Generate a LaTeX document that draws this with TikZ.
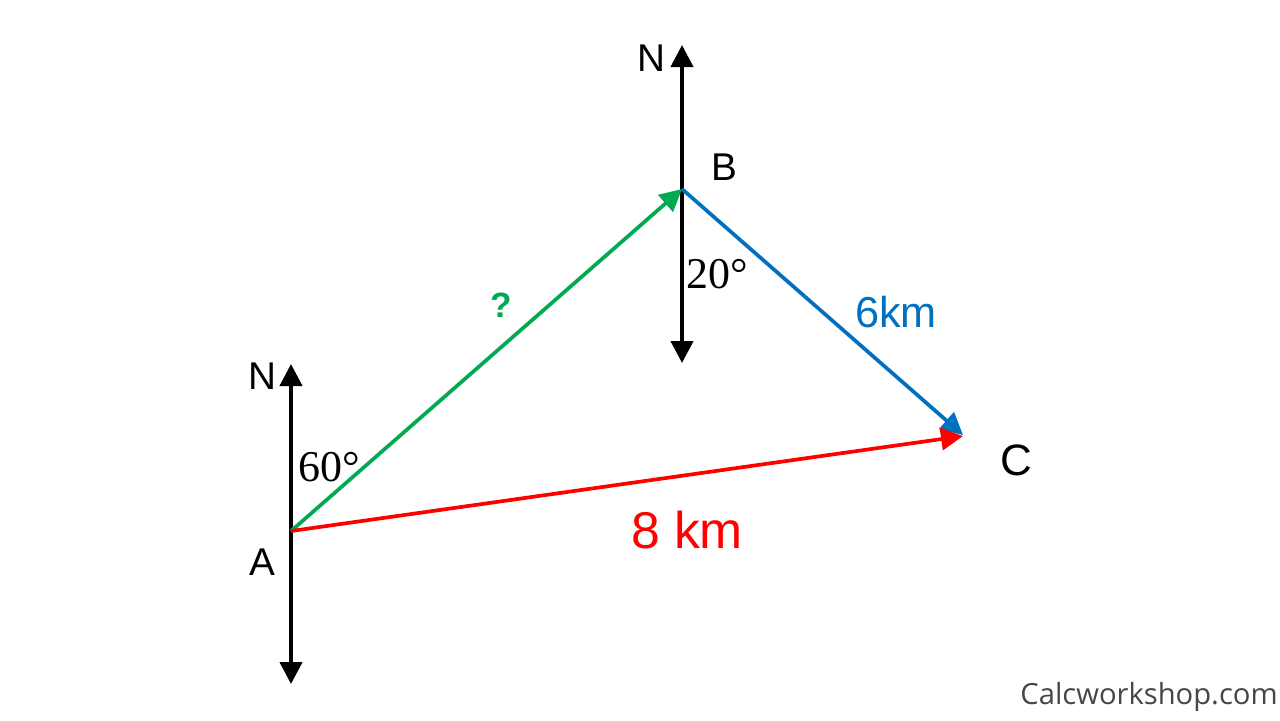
\documentclass[tikz,border=0pt]{standalone}
\usepackage{fontspec}
\setmainfont{Liberation Sans}
\newfontfamily\degfont{Liberation Serif}
\newfontfamily\wmfont{Open Sans}
\usetikzlibrary{arrows.meta}
\definecolor{vgreen}{RGB}{0,170,80}
\definecolor{vblue}{RGB}{0,112,192}
\definecolor{vred}{RGB}{255,0,0}
\definecolor{wmgray}{RGB}{70,70,70}
\tikzset{
  vec/.style={line width=1.05pt,-{Triangle[width=0.22cm,length=0.22cm]}},
  northline/.style={line width=1.15pt,black,{Triangle[width=0.22cm,length=0.22cm]}-{Triangle[width=0.22cm,length=0.22cm]}},
  lbl/.style={inner sep=0pt,font=\fontsize{11pt}{13pt}\selectfont},
  deg/.style={inner sep=0pt,font=\degfont\fontsize{12.5pt}{14pt}\selectfont},
}
\begin{document}
\begin{tikzpicture}[x=0.01cm,y=-0.01cm]
\useasboundingbox (0,0) rectangle (1280,720);
\coordinate (A) at (291,531);
\coordinate (B) at (682,189);
\coordinate (C) at (963,435);
\coordinate (Atop) at (291,364);
\coordinate (Abot) at (291,684);
\coordinate (Btop) at (682,45);
\coordinate (Bbot) at (682,363);
\coordinate (Cred) at (963,436);
\draw[northline] (Abot) -- (Atop);
\draw[northline] (Bbot) -- (Btop);
\draw[vec,vgreen] (A) -- (B);
\draw[vec,vblue] (B) -- (C);
\draw[vec,vred] (A) -- (Cred);
\node[lbl] (nA) at (262,376) {N};
\node[lbl] (nB) at (651,58) {N};
\node[lbl] (lA) at (262,562) {A};
\node[lbl] (lB) at (724,167) {B};
\node[lbl,font=\fontsize{12.5pt}{14pt}\selectfont] (lC) at (1016,460) {C};
\node[deg] (d60) at (329,467) {60°};
\node[deg] (d20) at (717,274) {20°};
\node[lbl,vgreen,font=\bfseries\fontsize{10pt}{12pt}\selectfont] (q) at (501,305) {?};
\node[lbl,vblue,font=\fontsize{12.3pt}{14pt}\selectfont] (l6) at (896,312) {6km};
\node[lbl,vred,font=\fontsize{14.7pt}{17pt}\selectfont] (l8) at (687,530) {8 km};
\node[inner sep=0pt,wmgray,font=\wmfont\fontsize{8.3pt}{10pt}\selectfont] (wm) at (1149,697) {Calcworkshop.com};
\end{tikzpicture}
\end{document}
